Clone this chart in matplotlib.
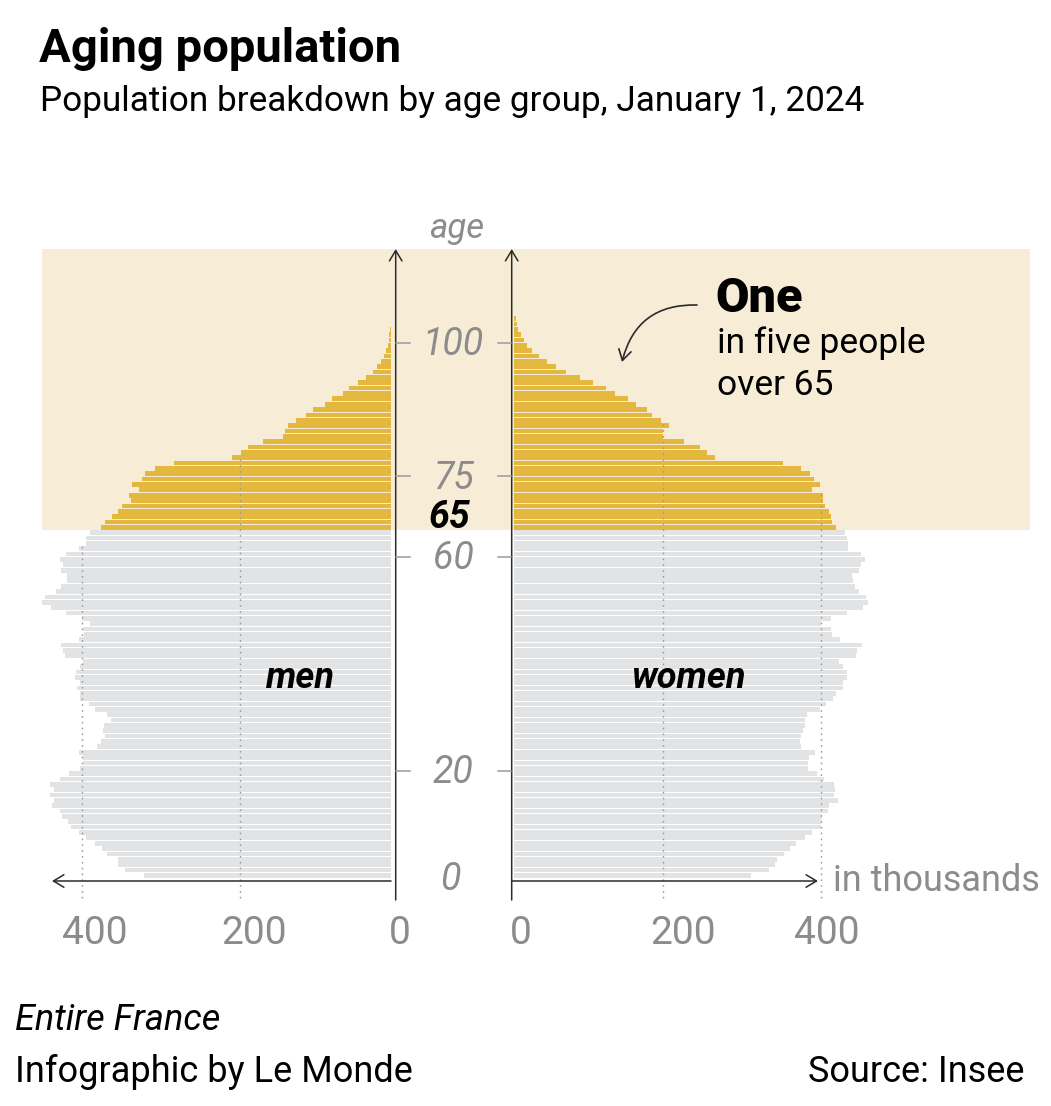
import numpy as np
import matplotlib.pyplot as plt

plt.rcParams['font.family'] = ['Roboto', 'DejaVu Sans']

# Population au 1er janvier 2024, en milliers, par âge
ages_men = np.arange(0, 103)
men = [321, 345, 354, 354, 368, 374, 383, 395, 404, 413,
       417, 425, 428, 437, 435, 440, 435, 440, 427, 416,
       402, 399, 399, 404, 381, 376, 371, 373, 372, 363,
       368, 383, 391, 402, 402, 406, 402, 409, 407, 402,
       398, 421, 423, 426, 404, 397, 399, 389, 400, 420,
       439, 450, 446, 433, 426, 418, 418, 426, 424, 427,
       420, 403, 395, 395, 389, 376, 371, 362, 354, 349,
       338, 340, 328, 337, 324, 320, 307, 284, 210, 199,
       190, 171, 146, 144, 140, 130, 117, 108, 93, 84,
       70, 63, 51, 42, 33, 28, 22, 19, 16, 14,
       13, 12.5, 11.5]

ages_women = np.arange(0, 106)
women = [311, 334, 341, 344, 353, 360, 368, 379, 388, 400,
         400, 401, 408, 410, 421, 416, 417, 416, 403, 394,
         383, 383, 385, 392, 374, 373, 374, 377, 379, 379,
         382, 399, 406, 415, 419, 428, 428, 433, 432, 428,
         422, 444, 445, 451, 424, 413, 412, 400, 412, 432,
         452, 459, 457, 448, 443, 440, 439, 448, 450, 455,
         450, 434, 434, 432, 430, 418, 414, 412, 410, 405,
         402, 402, 388, 398, 391, 386, 374, 352, 266, 256,
         247, 227, 200, 201, 208, 198, 187, 180, 166, 156,
         140, 129, 112, 96, 78, 65, 54, 44, 35, 29,
         25, 21, 18, 16, 15, 13]

age_ticks = [0, 20, 60, 75, 100]
x_ticks = [0, 200, 400]
senior_age = 65

yellow = '#e4b73e'
gray = '#e2e3e5'
band = '#f7edd7'
dark = '#2b2b2b'
tick_col = '#8c8c8c'

# mise en page (pixels)
W, H = 1051, 1106
px_year = 5.354
y0 = 878
py_top, py_bot = 240, 905
ylim = ((y0 - py_bot) / px_year, (y0 - py_top) / px_year)
b = 1 - py_bot / H
h = (py_bot - py_top) / H

def yd(py):
    return (y0 - py) / px_year

fig = plt.figure(figsize=(W / 100, H / 100), dpi=100)

bg = fig.add_axes([0, b, 1, h])
bg.set_xlim(0, W)
bg.set_ylim(ylim)
bg.axis('off')
bg.axhspan(senior_age, yd(249), xmin=42 / W, xmax=1030 / W, color=band, lw=0, zorder=0)

ax_m = fig.add_axes([30 / W, b, 361 / W, h], facecolor='none')
ax_m.set_xlim(465.2, 10.0)
ax_w = fig.add_axes([514 / W, b, 526 / W, h], facecolor='none')
ax_w.set_xlim(12.5, 675.8)

for ax, ages, vals in [(ax_m, ages_men, men), (ax_w, ages_women, women)]:
    ax.set_ylim(ylim)
    ax.axis('off')
    cols = [yellow if a >= senior_age else gray for a in ages]
    ax.barh(ages + 0.5, vals, height=0.88, color=cols, lw=0, zorder=2)
    v = np.array(vals)
    for g in (200, 400):
        top = ages[v >= g].max() + 1
        ax.vlines(g, yd(898), top, colors='#9a9a9a', lw=1,
                  linestyles=(0, (1.2, 3)), zorder=3)

# axes verticaux et graduations d'âge
arrow = dict(arrowstyle='->,head_length=0.5,head_width=0.3', color=dark, lw=1.1,
             shrinkA=0, shrinkB=0, mutation_scale=15)
for xpx in (395.7, 511.7):
    bg.annotate('', xy=(xpx, yd(249)), xytext=(xpx, yd(900)), arrowprops=arrow,
                annotation_clip=False)
for a in age_ticks:
    if a > 0:
        bg.plot([396, 410], [a, a], color='#9a9a9a', lw=1.1, zorder=3)
        bg.plot([498, 511], [a, a], color='#9a9a9a', lw=1.1, zorder=3)
    bg.text(453 if a else 450, a - 12.5 / px_year, str(a), ha='center', va='baseline',
            style='italic', fontsize=27, color=tick_col)
bg.text(449, senior_age + 0.4, str(senior_age), ha='center', va='baseline',
        style='italic', fontweight='bold', fontsize=27, color='black')
bg.text(457, yd(238), 'age', ha='center', va='baseline', style='italic',
        fontsize=25, color=tick_col)

# axes horizontaux
ax_m.annotate('', xy=(437.5, yd(881)), xytext=(10, yd(881)), arrowprops=arrow,
              annotation_clip=False)
ax_w.annotate('', xy=(395.8, yd(881)), xytext=(9.6, yd(881)), arrowprops=arrow,
              annotation_clip=False)
bg.text(833, yd(891), 'in thousands', ha='left', va='baseline', fontsize=26, color=tick_col)

men_lab_x = [-1.4, 182.7, 383]
women_lab_x = [21.3, 225.6, 407.2]
for t, xm, xw in zip(x_ticks, men_lab_x, women_lab_x):
    ax_m.text(xm, yd(944), str(t), ha='center', va='baseline', fontsize=28, color=tick_col)
    ax_w.text(xw, yd(944), str(t), ha='center', va='baseline', fontsize=28, color=tick_col)

ax_m.text(124.7, yd(688), 'men', ha='center', va='baseline', style='italic',
          fontweight='bold', fontsize=26, color='black', zorder=5)
ax_w.text(233, yd(688), 'women', ha='center', va='baseline', style='italic',
          fontweight='bold', fontsize=26, color='black', zorder=5)

# annotation
bg.text(715, yd(312), 'One', ha='left', va='baseline', fontweight='black',
        fontsize=35, color='black')
bg.text(717, yd(353), 'in five people', ha='left', va='baseline', fontsize=25.5, color='black')
bg.text(717, yd(395), 'over 65', ha='left', va='baseline', fontsize=25.5, color='black')
bg.annotate('', xy=(622, yd(362)), xytext=(697, yd(305)),
            arrowprops=dict(arrowstyle='->,head_length=0.5,head_width=0.3', color=dark,
                            lw=1.2, shrinkA=0, shrinkB=0, mutation_scale=15,
                            connectionstyle='arc3,rad=0.4'),
            annotation_clip=False)

# titres
fig.text(39 / W, 1 - 62 / H, 'Aging population', fontsize=34, fontweight='bold',
         va='baseline', ha='left')
fig.text(40 / W, 1 - 111 / H, 'Population breakdown by age group, January 1, 2024',
         fontsize=25.3, va='baseline', ha='left')
fig.text(15 / W, 1 - 1030 / H, 'Entire France', fontsize=26, style='italic',
         va='baseline', ha='left')
fig.text(15 / W, 1 - 1082 / H, 'Infographic by Le Monde', fontsize=26,
         va='baseline', ha='left')
fig.text(1025 / W, 1 - 1082 / H, 'Source: Insee', fontsize=26,
         va='baseline', ha='right')

fig.savefig('out.png', dpi=100)
